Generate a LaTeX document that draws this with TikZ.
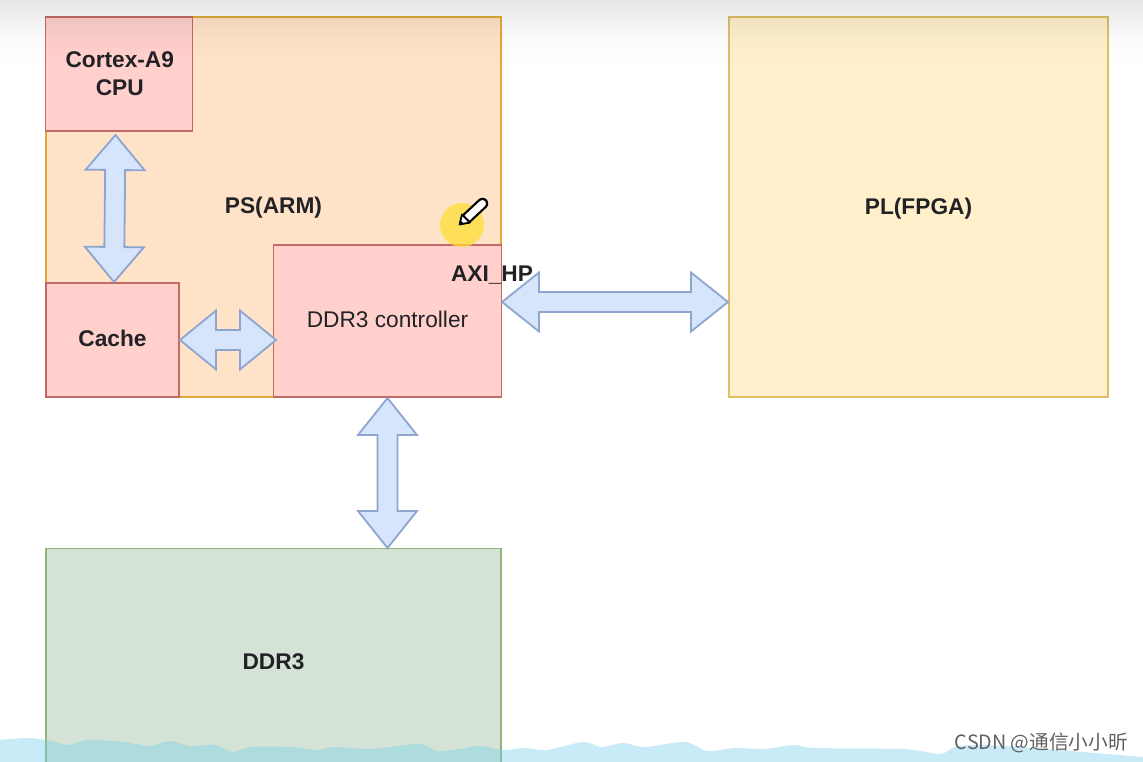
\documentclass[tikz,border=0pt]{standalone}
\usepackage{fontspec}
\setmainfont{Liberation Sans}
\newfontfamily\cjkfont{Noto Sans CJK SC}
\usetikzlibrary{calc}
\definecolor{psfill}{HTML}{FFE3C9}
\definecolor{psline}{HTML}{E0A935}
\definecolor{redfill}{HTML}{FFD0CC}
\definecolor{redline}{HTML}{C46A66}
\definecolor{plfill}{HTML}{FFF0CB}
\definecolor{plline}{HTML}{DEBF66}
\definecolor{ddrfill}{HTML}{D4E3D5}
\definecolor{ddrline}{HTML}{93B47C}
\definecolor{arrowfill}{HTML}{D6E5FC}
\definecolor{arrowline}{HTML}{8DA5CF}
\definecolor{wavefill}{HTML}{76CFED}
\definecolor{inktext}{HTML}{222226}
\tikzset{
  box/.style={draw, line width=1.8pt, inner sep=0pt, align=center, text=inktext, font=\fontsize{22.7}{28}\selectfont\bfseries},
  ps/.style={box, fill=psfill, draw=psline},
  cell/.style={box, fill=redfill, draw=redline},
  pl/.style={box, fill=plfill, draw=plline, text depth=0pt},
  mem/.style={box, fill=ddrfill, draw=ddrline},
  label/.style={inner sep=0pt, text=inktext, font=\fontsize{22.7}{28}\selectfont\bfseries},
  barrow/.style={draw=arrowline, fill=arrowfill, line width=1.8pt, line join=miter},
}
% block arrow between two named points: ends, head length, head half width, shaft half width
\newcommand{\blockarrow}[5]{%
  \draw[barrow] (#1)
    -- ($(#1)!#3pt!(#2)!#4pt!90:(#2)$)
    -- ($(#1)!#3pt!(#2)!#5pt!90:(#2)$)
    -- ($(#2)!#3pt!(#1)!#5pt!-90:(#1)$)
    -- ($(#2)!#3pt!(#1)!#4pt!-90:(#1)$)
    -- (#2)
    -- ($(#2)!#3pt!(#1)!#4pt!90:(#1)$)
    -- ($(#2)!#3pt!(#1)!#5pt!90:(#1)$)
    -- ($(#1)!#3pt!(#2)!#5pt!-90:(#2)$)
    -- ($(#1)!#3pt!(#2)!#4pt!-90:(#2)$)
    -- cycle;}
\begin{document}
\begin{tikzpicture}[x=1pt,y=-1pt]
\useasboundingbox (0,0) rectangle (1143,762);
\fill[white] (0,0) rectangle (1143,762);

% boxes
\node[ps, minimum width=455pt, minimum height=380pt] (ps) at (273.5,207) {};
\node[pl, minimum width=379pt, minimum height=380pt] (pl) at (918.5,207) {\raisebox{1.8pt}{PL(FPGA)}};
\node[mem, minimum width=455pt, minimum height=228pt] (ddr) at (273.5,662.5) {\raisebox{1pt}{DDR3}};
\node[cell, minimum width=147pt, minimum height=114pt] (cpu) at (119,74) {\hspace{1.5pt}Cortex-A9\\\hspace{1.5pt}CPU};
\node[cell, minimum width=133pt, minimum height=114pt] (cache) at (112.5,340) {\raisebox{3pt}{Cache}};
\node[cell, minimum width=228pt, minimum height=152pt, font=\fontsize{22.7}{28}\selectfont] (ctrl) at (387.5,321) {\raisebox{3pt}{DDR3 controller}};
\node[label, text depth=0pt] (pslabel) at (273.5,205.2) {PS(ARM)};

% block arrows
\coordinate (cputop) at (115.5,135);
\coordinate (cachetop) at (114,282);
\coordinate (cacheright) at (180,340);
\coordinate (ctrlleft) at (276,340);
\coordinate (ctrlright) at (502,302);
\coordinate (plleft) at (728,302);
\coordinate (ctrlbottom) at (387.5,398);
\coordinate (ddrtop) at (387.5,548);
\blockarrow{cputop}{cachetop}{35}{29.5}{10}
\blockarrow{cacheright}{ctrlleft}{36}{29.5}{10}
\blockarrow{ctrlright}{plleft}{37}{29.5}{10}
\blockarrow{ctrlbottom}{ddrtop}{37}{29.5}{10}

\node[label] (axi) at (492,275) {AXI\_HP};

% cursor highlight and pencil
\fill[yellow!75!orange!80!white, opacity=.75] (462,225) circle (22);
\draw[black, line width=11.5pt, line cap=round] (467,218) -- (482.5,203.5);
\draw[white, line width=7pt, line cap=round] (467,218) -- (482.5,203.5);
\draw[black, line width=1.8pt, line join=round, fill=white] (459.5,224.5) -- (462,214.5) -- (470,222.5) -- cycle;
\fill[black] (459,225) -- (460.2,220) -- (464,223.8) -- cycle;

% recording overlay: top shadow, bottom wave, watermark
\foreach \i in {0,...,34} {
  \fill[black, opacity={0.10*(1-\i/35)*(1-\i/35)}] (0,2*\i) rectangle (1143,2*\i+2);
}
\fill[wavefill, opacity=.4] plot[smooth, tension=.5] coordinates {
  (0,740) (29,738) (51,741) (69,745) (87,740) (124,742) (149,746) (169,741)
  (190,746) (215,745) (233,752) (251,747) (292,747) (317,750) (335,747)
  (372,749) (419,744) (437,751) (459,749) (481,746) (503,750) (525,748)
  (547,750) (583,742) (601,747) (623,743) (645,747) (685,742) (707,751)
  (736,748) (765,749) (794,745) (816,748) (904,749) (940,754) (955,747)
  (977,745) (1020,747) (1143,757)} -- (1143,762) -- (0,762) -- cycle;
\node[text=black!62, inner sep=0pt, font=\fontsize{19.7}{22}\selectfont\cjkfont] (mark) at (1041.5,743) {CSDN @通信小小昕};
\end{tikzpicture}
\end{document}
